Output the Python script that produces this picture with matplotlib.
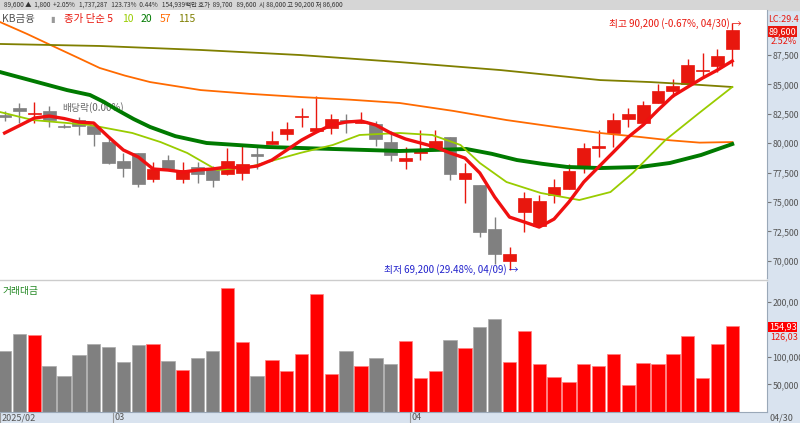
import numpy as np
import matplotlib
matplotlib.use("Agg")
import matplotlib.pyplot as plt
import matplotlib.transforms as mtransforms
from matplotlib.patches import Rectangle

plt.rcParams['font.family'] = ['Noto Sans CJK KR', 'DejaVu Sans']

# ---- 데이터 ----
opens = [82400, 83000, 82500, 82700, 81500, 82000, 81500, 80100, 78500, 79200,
         77000, 78600, 77000, 78000, 77800, 77400, 77500, 79100, 79950, 80800,
         82200, 81050, 81300, 82000, 81750, 81600, 80100, 78500, 79200, 79600,
         80550, 77000, 76450, 72700, 70000, 74150, 72960, 75600, 76100, 78000,
         79600, 80870, 82060, 81720, 83420, 84440, 85030, 86150, 86560, 88010]
highs = [82700, 83400, 83500, 83200, 81600, 82200, 81800, 80600, 79200, 79200,
         78400, 79000, 78400, 78400, 78100, 79600, 79800, 79800, 81000, 81800,
         83000, 84000, 82500, 82500, 82650, 81900, 81000, 79700, 81100, 81100,
         80550, 78300, 76450, 73700, 71200, 75850, 75600, 77000, 78200, 80000,
         81100, 82570, 83000, 83600, 85000, 85500, 87200, 87670, 88000, 90200]
lows = [81900, 81700, 81700, 81400, 81300, 80700, 79800, 78200, 77100, 76300,
        76700, 77700, 76600, 76600, 76300, 77300, 76900, 77800, 79900, 80300,
        81400, 81000, 80800, 80900, 81700, 79800, 78500, 77800, 78600, 79400,
        76900, 74900, 72000, 69700, 69200, 72450, 72960, 74900, 76100, 77500,
        78800, 79680, 81380, 81720, 83420, 83950, 85030, 85710, 86060, 86560]
closes = [82200, 82700, 82600, 82000, 81400, 81500, 80800, 78300, 77900, 76500,
          77800, 77700, 77700, 77400, 76900, 78500, 78200, 78900, 80200, 81200,
          82300, 81300, 82050, 81800, 81850, 80400, 79000, 78750, 79500, 80200,
          77400, 77450, 72450, 70600, 70600, 75350, 75080, 76300, 77650, 79600,
          79800, 81970, 82480, 83250, 84440, 84870, 86650, 86250, 87410, 89600]
amounts = [111, 141, 140, 84, 66, 104, 123, 119, 91, 122,
           124, 93, 77, 99, 111, 225, 127, 65, 95, 75,
           105, 215, 69, 111, 83, 98, 87, 129, 62, 75,
           131, 116, 154, 169, 90, 147, 87, 63, 55, 87,
           84, 106, 49, 89, 88, 106, 138, 61, 124, 156]  # 천 단위

ma5 = [80870, 81500, 82140, 82310, 82100, 81800, 81720, 80530, 79420, 78830,
       77810, 77720, 77550, 77720, 77810, 77980, 77890, 78060, 78570, 79420,
       80270, 80950, 81550, 81800, 81890, 81550, 80870, 80360, 80020, 79680,
       79170, 78740, 77470, 75430, 73720, 73300, 72870, 73550, 75000, 76700,
       77980, 79250, 80530, 81550, 82820, 84010, 84780, 85540, 86220, 86990]
ma10_idx = [-0.3, 1.9, 5.75, 8.6, 10.5, 12.3, 14.3, 16.5, 19.9, 22.1, 23.9, 26.6,
            28.8, 30.7, 32, 33.8, 36.1, 38.7, 40.8, 42.3, 44.5, 46.7, 49]
ma10_val = [82650, 81970, 81550, 80870, 80100, 79170, 77720, 77980, 79170, 79850, 80700, 80870,
            80700, 79850, 78320, 76700, 75770, 75170, 75850, 77470, 80270, 82500, 84780]
ma20_idx = [-0.3, 1.7, 4.2, 5.75, 6.7, 7.6, 8.7, 9.8, 11.5, 13.6, 17.7, 22.1, 26.6, 31.1,
            32.8, 34.5, 36.2, 37.9, 40.1, 42.8, 44.8, 46.9, 49]
ma20_val = [86050, 85370, 84520, 84100, 83500, 82820, 82050, 81380, 80600, 80020, 79680,
            79510, 79340, 79510, 79100, 78570, 78250, 77980, 77890, 77980, 78320, 79000, 79930]
ma57_idx = [-0.3, 1.5, 3.1, 4.8, 6.4, 8.1, 9.8, 13.2, 16.5, 19.9, 23.3, 26.6, 30.2,
            33.8, 37, 40.1, 42.8, 44.8, 46.8, 49]
ma57_val = [90300, 89300, 88350, 87350, 86400, 85750, 85200, 84520, 84200, 83930, 83700,
            83420, 82750, 81970, 81400, 80870, 80530, 80250, 80050, 80100]
ma115_idx = [-0.3, 6.4, 13.2, 19.9, 26.6, 33.4, 40.1, 43.5, 46.3, 49]
ma115_val = [88440, 88270, 87930, 87500, 86900, 86220, 85370, 85200, 85000, 84780]

price_ticks = [70000, 72500, 75000, 77500, 80000, 82500, 85000, 87500]
vol_ticks = [50000, 100000, 200000]
month_labels = ["2025/02", "03", "04"]
month_pos = [-0.3, 7.3, 27.3]

RED = "#e8170e"
GRAY = "#808080"
PANEL = "#d9e3ef"

fig = plt.figure(figsize=(8, 4.23), dpi=100)
ax = fig.add_axes([0, 0.3428, 0.95875, 0.6336])
axv = fig.add_axes([0, 0.026, 0.95875, 0.307], sharex=ax)

# 바탕 패널
for rect in [(0.95875, 0, 0.05, 0.977), (0, 0, 1, 0.026)]:
    fig.patches.append(Rectangle(rect[:2], rect[2], rect[3], transform=fig.transFigure,
                                 color=PANEL, zorder=-5))
fig.patches.append(Rectangle((0, 0.977), 1, 0.023, transform=fig.transFigure, color="#d6d6d6", zorder=-5))

x = np.arange(len(opens))
o = np.array(opens); c = np.array(closes)
up = c >= o
cols = np.where(up, RED, GRAY)

ax.vlines(x, lows, highs, colors=cols, lw=1, zorder=2)
body = np.maximum(np.abs(c - o), 80)
ax.bar(x, body, bottom=np.minimum(o, c), width=0.86, color=cols, edgecolor=cols, lw=0.5, zorder=3)

ax.plot(ma57_idx, ma57_val, color="#ff6a00", lw=1.3, zorder=4)
ax.plot(ma115_idx, ma115_val, color="#7f7f00", lw=1.3, zorder=4)
ax.plot(ma20_idx, ma20_val, color="#007a00", lw=2.8, zorder=4)
ax.plot(ma10_idx, ma10_val, color="#99cc00", lw=1.3, zorder=5)
ax.plot(x, ma5, color="#f01010", lw=2.4, zorder=6)

ax.set_xlim(-0.31, 51.34)
ax.set_ylim(68540, 91330)
ax.yaxis.tick_right()
ax.set_yticks(price_ticks)
ax.set_yticklabels([f"{v:,}" for v in price_ticks], fontsize=6.3)
ax.tick_params(axis="y", length=3, pad=1, colors="#777777", labelcolor="#555555")
ax.tick_params(axis="x", bottom=False, labelbottom=False)
for s in ["top", "left", "bottom"]:
    ax.spines[s].set_visible(False)
ax.spines["right"].set_color("#9aa8b8")

ax.text(3.9, 83000, "배당락(0.00%)", fontsize=7, color="#666666", ha="left", va="center")
ax.text(49.6, 90150, "최고 90,200 (-0.67%, 04/30) →", fontsize=7, color=RED, ha="right", va="center")
ax.text(34.6, 69200, "최저 69,200 (29.48%, 04/09) →", fontsize=7, color="#2222cc", ha="right", va="center")

fig.text(0.003, 0.955, "KB금융", fontsize=7.5, color="#555555", va="center")
fig.text(0.063, 0.955, "▮", fontsize=6, color="#999999", va="center")
fig.text(0.08, 0.955, "종가 단순 5", fontsize=7.5, color=RED, va="center")
for lab, xx, cc in [("10", 0.153, "#99cc00"), ("20", 0.176, "#007a00"), ("57", 0.2, "#ff6a00"), ("115", 0.223, "#7f7f00")]:
    fig.text(xx, 0.955, lab, fontsize=7.5, color=cc, va="center")

fig.text(0.005, 0.988, "89,600 ▲  1,800  +2.05%   1,737,287   123.73%  0.44%   154,939백만 호가  89,700   89,600  시 88,000 고 90,200 저 86,600",
         fontsize=4.6, color="#333333", va="center")
fig.text(0.96, 0.955, "LC:29.4", fontsize=6.5, color=RED, va="center")
fig.text(0.961, 0.925, "89,600", fontsize=6.5, color="white", va="center",
         bbox=dict(boxstyle="square,pad=0.1", fc=RED, ec="none"))
fig.text(0.963, 0.903, "2.52%", fontsize=6.5, color=RED, va="center")

# 거래대금
vol = np.array(amounts) * 1000
vcols = np.where(up, "#ff0000", GRAY)
axv.bar(x, vol, width=0.9, color=vcols, edgecolor=np.where(up, "#ff8080", "#aaaaaa"), lw=0.5)
axv.set_ylim(0, 236000)
axv.yaxis.tick_right()
axv.set_yticks(vol_ticks)
axv.set_yticklabels(["50,000", "100,000", "200,00"], fontsize=6.3)
axv.tick_params(axis="y", length=3, pad=1, colors="#777777", labelcolor="#555555")
axv.set_xticks(month_pos)
axv.tick_params(axis="x", length=11, direction="out", colors="#999999", labelbottom=False)
trans = mtransforms.blended_transform_factory(axv.transData, fig.transFigure)
for lab, pos in zip(month_labels, month_pos):
    axv.text(pos + 0.1, 0.013, lab, transform=trans, fontsize=6.5, color="#555555",
             ha="left", va="center", clip_on=False)
for s in ["top", "left"]:
    axv.spines[s].set_visible(False)
axv.spines["right"].set_color("#9aa8b8")
axv.spines["bottom"].set_color("#9aa8b8")
axv.text(0.003, 0.93, "거래대금", transform=axv.transAxes, fontsize=7, color="#228822", va="center")
fig.text(0.961, 0.227, "154,93", fontsize=6.5, color="white", va="center",
         bbox=dict(boxstyle="square,pad=0.1", fc="#ff0000", ec="none"))
fig.text(0.963, 0.203, "126,03", fontsize=6.5, color=RED, va="center")
fig.text(0.962, 0.013, "04/30", fontsize=6.5, color="#555555", va="center")

fig.add_artist(plt.Line2D([0, 0.95875], [0.3375, 0.3375], color="#cccccc", lw=1))

fig.savefig("out.png", dpi=100)
